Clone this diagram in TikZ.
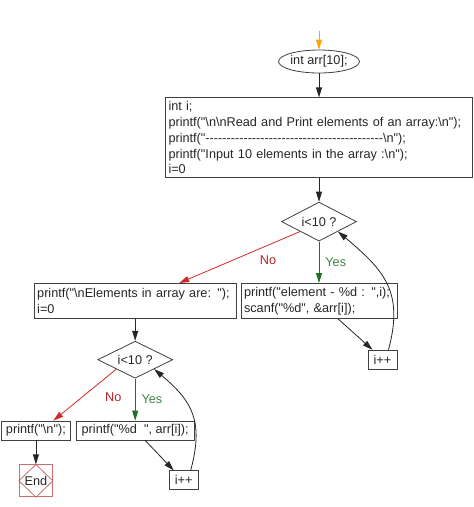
\documentclass[tikz,border=0pt]{standalone}
\usepackage{fontspec}
\setmainfont{Liberation Sans}[Ligatures=TeXOff]
\usetikzlibrary{arrows.meta, positioning, shapes.geometric}
\definecolor{noRed}{RGB}{214,40,40}
\definecolor{yesGreen}{RGB}{34,110,34}
\definecolor{endRed}{RGB}{200,110,110}
\definecolor{startOrange}{RGB}{255,165,0}

\begin{document}
\begin{tikzpicture}[
    x=1pt, y=1pt,
    node distance=24pt and 4pt,
    every node/.style={font=\fontsize{12.7}{15.75}\selectfont, text=black!85},
    proc/.style={draw=black!75, thick, inner xsep=3pt, inner ysep=1pt, align=left},
    decision/.style={draw=black!75, thick, diamond, aspect=1.9, inner sep=0pt, minimum width=75pt, minimum height=39pt},
    counter/.style={draw=black!75, thick, inner sep=1pt, minimum width=29pt, minimum height=19pt},
    endbox/.style={draw=endRed, thick, inner sep=0pt, minimum width=33pt, minimum height=32pt},
    lbl/.style={inner sep=1pt},
    arrow/.style={-{Triangle[length=10pt, width=6pt]}, thick, black!85},
    yesarrow/.style={arrow, yesGreen},
    noarrow/.style={arrow, noRed}
]
    \useasboundingbox (0,0) rectangle (474,-507);

    % Nodes
    \node (arr) [draw=black!75, thick, ellipse, inner sep=0pt, minimum width=73pt, minimum height=23pt] at (319,-61.5) {int arr[10];};
    \coordinate [above=19pt of arr] (start);
    \node (init) [proc, below=24pt of arr, text width=301pt, minimum height=80pt] {int i;\\
        printf("\textbackslash n\textbackslash nRead and Print elements of an array:\textbackslash n");\\
        printf("------------------------------------------\textbackslash n");\\
        printf("Input 10 elements in the array :\textbackslash n");\\
        i=0};
    \node (d1) [decision, below=23.5pt of init] {i<10 ?};
    \node (loop1) [proc, below=41.5pt of d1, text width=150pt, minimum height=35pt] {printf("element - \%d : ",i);\\
        scanf("\%d", \&arr[i]);};
    \node (out1) [proc, left=4pt of loop1, text width=196pt, minimum height=35pt] {printf("\textbackslash nElements in array are: ");\\
        i=0};
    \node (inc1) [counter, below left=31pt and 0pt of loop1.south east] {i++};
    \node (d2) [decision, below=22pt of out1, minimum height=37pt] {i<10 ?};
    \node (print) [proc, below=42pt of d2, minimum width=118pt, minimum height=19pt] {printf("\%d~~", arr[i]);};
    \node (nl) [proc, left=5pt of print, minimum width=69pt, minimum height=19pt] {printf("\textbackslash n");};
    \node (inc2) [counter, below left=30pt and -4pt of print.south east] {i++};
    \node (end) [endbox, below=24pt of nl] {End};
    \draw [endRed, thick] (end.north) -- (end.east) -- (end.south) -- (end.west) -- cycle;

    % Edges
    \draw [arrow, startOrange] (start) -- (arr.north);
    \draw [arrow] (arr.south) -- (init.north);
    \draw [arrow] (init.south) -- (d1.north);
    \draw [yesarrow] (d1.south) -- (loop1.north) node[lbl, midway, right=5pt, text=yesGreen!85!white] {Yes};
    \draw [noarrow] (d1.south west) -- ([xshift=44pt]out1.north) node[lbl, pos=0.55, right=25pt, text=noRed!85!black] {No};
    \draw [arrow] ([xshift=19pt]loop1.south) -- ([xshift=-10pt]inc1.north);
    \draw [arrow] ([xshift=6pt]inc1.north) to[out=75, in=-40, looseness=1.2] (d1.south east);
    \draw [arrow] (out1.south) -- (d2.north);
    \draw [yesarrow] (d2.south) -- (print.north) node[lbl, midway, right=5pt, text=yesGreen!85!white] {Yes};
    \draw [noarrow] (d2.south west) -- ([xshift=17.5pt]nl.north) node[lbl, pos=0.55, right=22pt, text=noRed!85!black] {No};
    \draw [arrow] ([xshift=10pt]print.south) -- ([xshift=-10pt]inc2.north);
    \draw [arrow] ([xshift=7pt]inc2.north) to[out=75, in=-40, looseness=1.2] (d2.south east);
    \draw [arrow] (nl.south) -- (end.north);
\end{tikzpicture}
\end{document}
